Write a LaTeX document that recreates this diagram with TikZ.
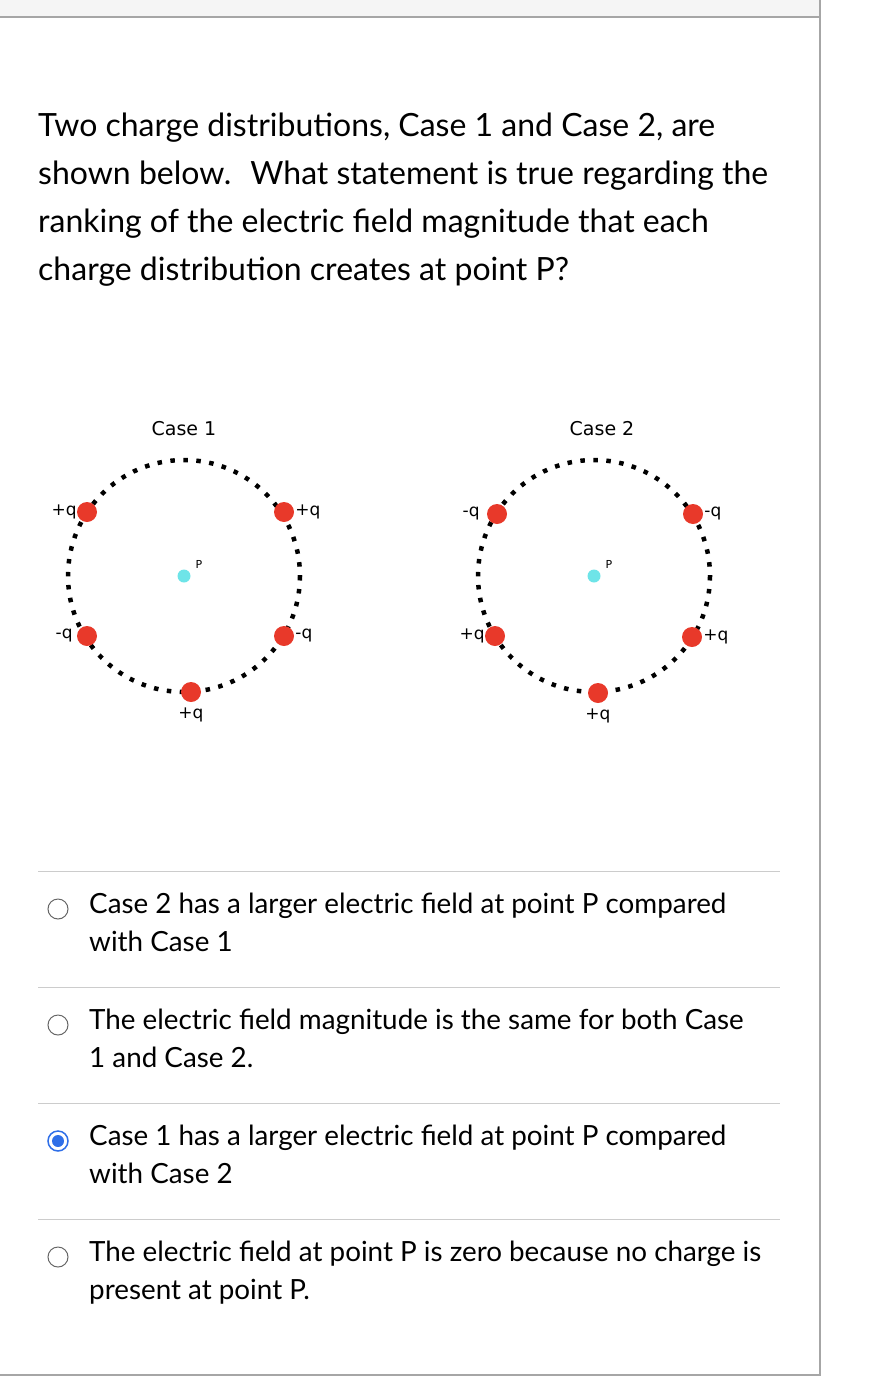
\documentclass[tikz,border=0pt]{standalone}
\usepackage{fontspec}
\setmainfont{Lato}
\newfontfamily\vfont{DejaVu Sans}
\definecolor{chgred}{HTML}{E8392A}
\definecolor{pcyan}{HTML}{6EE4E8}
\definecolor{selblue}{HTML}{2F6FE8}
\begin{document}
\begin{tikzpicture}[x=1pt,y=-1pt,
  chg/.style={circle,fill=chgred,inner sep=0,minimum size=20},
  lbl/.style={font=\vfont\fontsize{17}{20}\selectfont,inner sep=1},
  ring/.style={line width=4.5,dash pattern=on 4.5 off 8.5},
  opt/.style={anchor=north west,align=left,font=\fontsize{27.8}{38}\selectfont,inner sep=0},
  radio/.style={circle,draw=gray!80!black,line width=1,minimum size=20,inner sep=0},
  sep/.style={draw=gray!40,line width=1}]
\useasboundingbox (0,0) rectangle (872,1378);
\fill[gray!8] (0,0) rectangle (820,17);
\draw[gray!70,line width=2] (0,17) -- (820,17);
\draw[gray!70,line width=2] (820,0) -- (820,1375) -- (0,1375);
\node[anchor=north west,align=left,inner sep=0,font=\fontsize{32}{48}\selectfont] (q) at (38,113)
{Two charge distributions, Case 1 and Case 2, are\\ shown below.~ What statement is true regarding the\\ ranking of the electric field magnitude that each\\ charge distribution creates at point P?};
% Case 1
\draw[ring] (184,576) circle (116);
\node[lbl,font=\vfont\fontsize{19}{22}\selectfont] (c1) at (184,429) {Case 1};
\node[circle,fill=pcyan,inner sep=0,minimum size=13] (p1) at (184,576) {};
\node[lbl,font=\vfont\fontsize{11}{12}\selectfont] (pl1) at (199,564) {P};
\node[chg] (a1) at (87,512) {}; \node[lbl,anchor=east,inner sep=0] at (a1.west) {+q};
\node[chg] (b1) at (284,512) {}; \node[lbl,anchor=west] at (b1.east) {+q};
\node[chg] (c1a) at (87,636) {}; \node[lbl,anchor=east,xshift=-3] at (c1a.west) {-q};
\node[chg] (d1) at (284,636) {}; \node[lbl,anchor=west] at (d1.east) {-q};
\node[chg] (e1) at (191,692) {}; \node[lbl,anchor=north,yshift=-4] at (e1.south) {+q};
% Case 2
\draw[ring] (594,576) circle (116);
\node[lbl,font=\vfont\fontsize{19}{22}\selectfont] (c2) at (602,429) {Case 2};
\node[circle,fill=pcyan,inner sep=0,minimum size=13] (p2) at (594,576) {};
\node[lbl,font=\vfont\fontsize{11}{12}\selectfont] (pl2) at (609,564) {P};
\node[chg] (a2) at (497,514) {}; \node[lbl,anchor=east,xshift=-6] at (a2.west) {-q};
\node[chg] (b2) at (693,514) {}; \node[lbl,anchor=west] at (b2.east) {-q};
\node[chg] (c2a) at (495,636) {}; \node[lbl,anchor=east,inner sep=0] at (c2a.west) {+q};
\node[chg] (d2) at (692,637) {}; \node[lbl,anchor=west] at (d2.east) {+q};
\node[chg] (e2) at (598,693) {}; \node[lbl,anchor=north,yshift=-4] at (e2.south) {+q};
% options
\foreach \y in {871,987,1103,1219} \draw[sep] (38,\y) -- (780,\y);
\node[radio] (r1) at (58,909) {};
\node[radio] (r2) at (58,1025) {};
\node[radio,draw=selblue,line width=1.5] (r3) at (58,1141) {};
\node[circle,fill=selblue,inner sep=0,minimum size=12] at (r3) {};
\node[radio] (r4) at (58,1257) {};
\node[opt] (o1) at (89,893) {Case 2 has a larger electric field at point P compared\\ with Case 1};
\node[opt] (o2) at (89,1009) {The electric field magnitude is the same for both Case\\ 1 and Case 2.};
\node[opt] (o3) at (89,1125) {Case 1 has a larger electric field at point P compared\\ with Case 2};
\node[opt] (o4) at (89,1241) {The electric field at point P is zero because no charge is\\ present at point P.};
\end{tikzpicture}
\end{document}
